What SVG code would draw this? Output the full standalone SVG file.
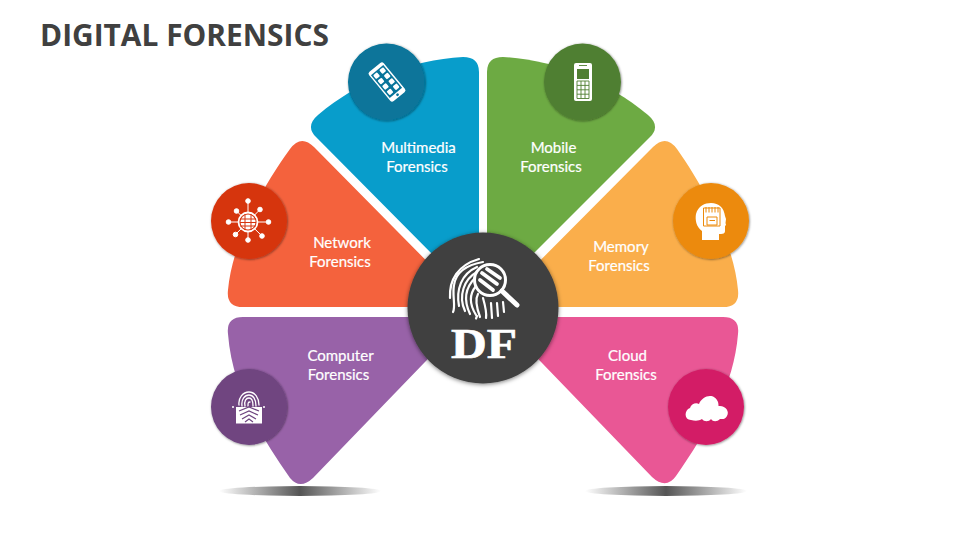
<svg xmlns="http://www.w3.org/2000/svg" width="960" height="540" viewBox="0 0 960 540">
<style>
.lbl{font-family:"Lato","Open Sans",sans-serif;font-size:15px;fill:#fff;stroke:#fff;stroke-width:.2px;text-anchor:middle}
.title{font-family:"Open Sans","Liberation Sans",sans-serif;font-size:31px;font-weight:700;fill:#404040}
.df{font-family:"Liberation Serif",serif;font-size:43px;font-weight:700;fill:#fff;stroke:#fff;stroke-width:.7px;text-anchor:middle}
.ic{filter:url(#sh)}
.w{fill:#fff}
.fp{fill:none;stroke:#fff;stroke-linecap:round}
</style>
<defs>
<filter id="sh" x="-20%" y="-20%" width="140%" height="140%"><feDropShadow dx=".6" dy=".6" stdDeviation="1.300" flood-color="#000" flood-opacity=".5"/></filter>
<filter id="sh2" x="-20%" y="-20%" width="140%" height="140%"><feDropShadow dx="0" dy="1" stdDeviation="2" flood-color="#000" flood-opacity=".5"/></filter>
<linearGradient id="gs"><stop offset="0" stop-color="#fff"/><stop offset=".5" stop-color="#555"/><stop offset="1" stop-color="#fff"/></linearGradient>
</defs>
<rect width="960" height="540" fill="#fff"/>
<text class="title" x="40" y="46" textLength="289" lengthAdjust="spacingAndGlyphs">DIGITAL FORENSICS</text>
<ellipse cx="300" cy="491" rx="81" ry="5" fill="url(#gs)"/>
<ellipse cx="666" cy="491" rx="81" ry="5" fill="url(#gs)"/>

<g id="multimedia">
<path d="M479 300V72Q479 57 463 57C410 60 360 80 318 115Q305 126 316 137L440 262Z" fill="#089DCB"/>
<circle class="ic" cx="386.5" cy="82" r="38.5" fill="#07749A"/>
<g transform="translate(387 82) rotate(-39.6)">
<rect x="-9.500" y="-19" width="19" height="38" rx="2.500" fill="#fff"/>
<rect x="-8" y="-15.500" width="16" height="29.500" fill="#07749A"/>
<g class="w"><rect x="-6.500" y="-14" width="5" height="5" rx="1"/><rect x="1.500" y="-14" width="5" height="5" rx="1"/><rect x="-6.500" y="-7" width="5" height="5" rx="1"/><rect x="1.500" y="-7" width="5" height="5" rx="1"/><rect x="-6.500" y="0" width="5" height="5" rx="1"/><rect x="1.500" y="0" width="5" height="5" rx="1"/><rect x="-6.500" y="7" width="5" height="5" rx="1"/><rect x="1.500" y="7" width="5" height="5" rx="1"/></g>
<circle cy="16.500" r="1.400" fill="#07749A"/>
</g>
<text class="lbl" x="418.500" y="153">Multimedia</text><text class="lbl" x="417" y="172">Forensics</text>
</g>

<g id="mobile">
<path d="M487 300V72Q487 57 503 57C555 60 605 80 648 115Q661 126 650 137L525 262Z" fill="#6DAA43"/>
<circle class="ic" cx="582.5" cy="82" r="38.5" fill="#507F32"/>
<rect x="574" y="63" width="18" height="38" rx="2" fill="#fff"/>
<rect x="577" y="69" width="12" height="10" fill="#507F32"/>
<path d="M579 65.500H587M577 81H589V98.500H577ZM577 85.400H589M577 89.800H589M577 94.200H589M581 81V98.500M585 81V98.500" fill="none" stroke="#507F32" stroke-width=".9"/>
<text class="lbl" x="553.500" y="153">Mobile</text><text class="lbl" x="551" y="172">Forensics</text>
</g>

<g id="network">
<path d="M480 307H243Q226 307 228 290C232 245 260 190 290 149Q301 134 314 147L480 315Z" fill="#F4623D"/>
<circle class="ic" cx="249" cy="221" r="38" fill="#D6350F"/>
<g stroke="#fff" stroke-width="1" fill="#fff">
<path d="M248 201V240M228.500 222H268.500M236.500 211L262 236M260 209.500L235.500 234.500" fill="none"/>
<circle cx="248" cy="201" r="2.300"/><circle cx="260" cy="209.500" r="2.300"/><circle cx="268.500" cy="222" r="2.300"/><circle cx="262" cy="236" r="2.300"/><circle cx="248" cy="240" r="2.300"/><circle cx="235.500" cy="234.500" r="2.300"/><circle cx="228.500" cy="222" r="2.300"/><circle cx="236.500" cy="211" r="2.300"/>
</g>
<circle cx="248" cy="222" r="9.500" fill="#D6350F" stroke="#fff" stroke-width="1.800"/>
<circle cx="248" cy="222" r="7.500" fill="#fff"/>
<path d="M240 219H256M240 222.500H256M240 226H256M245 214V230M251 214V230" stroke="#D6350F" stroke-width="1"/>
<text class="lbl" x="342" y="248">Network</text><text class="lbl" x="340" y="267">Forensics</text>
</g>

<g id="memory">
<path d="M486 307H723Q740 307 738 290C734 245 706 190 677 149Q666 134 653 147L486 315Z" fill="#FAAE4B"/>
<circle class="ic" cx="711" cy="221" r="38" fill="#EC8A0B"/>
<path d="M702 240V231C696 227 695 219 696 214C698 206 705 203 711 203C719 203 724 208 725 216L726 219L725.500 223L726 225L725 226L725 231C725 234 722 234 719 234V240Z" fill="#fff"/>
<path d="M703.500 208H720V226H703.500Z" fill="#fff" stroke="#EC8A0B" stroke-width="1"/>
<path d="M706 207V212.500M709 207V212.500M712 207V212.500M715 207V212.500M718 207V212.500M707 217H717V225H707ZM709.500 220.500H715" fill="none" stroke="#EC8A0B" stroke-width="1"/>
<text class="lbl" x="621" y="252">Memory</text><text class="lbl" x="619" y="271">Forensics</text>
</g>

<g id="computer">
<path d="M480 317H243Q226 317 228 334C232 385 256 430 290 478Q300 490 313 478L480 305Z" fill="#9862A8"/>
<circle class="ic" cx="249" cy="407" r="38" fill="#6F4580"/>
<rect x="236" y="407" width="26" height="16.500" fill="#fff"/>
<circle cx="233" cy="407" r="1" fill="#fff"/><circle cx="264" cy="407" r="1" fill="#fff"/>
<g class="fp" stroke-width="1.300"><path d="M239 405C238 398 243 392 249 392C255 392 259 398 259 405"/><path d="M242 406C241 399 245 395 249 395C253 395 256 399 256 406"/><path d="M245 406C244 401 246 398 249 398C252 398 253 402 253 406"/><path d="M248 406C248 403 248 402 250 402"/></g>
<path d="M239 411L249 407L259 411M240 415L249 411L258 415M242 419L249 415L256 419M245 422L249 419L253 422" fill="none" stroke="#6F4580" stroke-width="1.200"/>
<text class="lbl" x="340.500" y="361">Computer</text><text class="lbl" x="338.500" y="380">Forensics</text>
</g>

<g id="cloud">
<path d="M486 317H723Q740 317 738 334C734 385 708 430 676 476Q666 490 652 477L486 305Z" fill="#E95795"/>
<circle class="ic" cx="706" cy="407" r="38" fill="#D31F66"/>
<path d="M691 420C684 420 684 410 690 408C691 404 696 402 699 404C702 396 714 392 718 402C718.500 404 718.500 405 718.500 406C725 405 730 411 727 416C725 420 722 419 720 419C717 422 713 422 711 419C709 422 704 422 702 419C699 421 695 421 691 420Z" fill="#fff"/>
<text class="lbl" x="627.500" y="361">Cloud</text><text class="lbl" x="626" y="380">Forensics</text>
</g>

<g id="center">
<circle cx="483" cy="308" r="75.500" fill="#404040" filter="url(#sh2)"/>
<g class="fp" stroke-width="2.200">
<path d="M450 298C449 280 458 265 479 259"/>
<path d="M453 312C456 306 452 296 454 285C456 272 466 265 483 262"/>
<path d="M459 306C456 290 461 274 477 267"/>
<path d="M465 311C458 296 464 279 477 272"/>
<path d="M470 314C462 297 468 285 475 278"/>
<path d="M476 315C468 302 471 292 476 286"/>
<path d="M480 317C476 306 475 299 478 294"/>
<path d="M486 318C487 312 485 305 483 298"/>
<path d="M492 318L491 303"/>
<path d="M498 316L497 303"/>
<path d="M504 312L503 302"/>
<path d="M476 318.500L477 316"/>
</g>
<circle cx="490" cy="280" r="15.500" fill="#404040" stroke="#fff" stroke-width="3"/>
<path d="M482 273L497 284M480 280L493 290M487 269L500 278" stroke="#fff" stroke-width="3.800" stroke-linecap="round" fill="none"/>
<path d="M502 291L517 305" stroke="#fff" stroke-width="5" stroke-linecap="round"/>
<text class="df" x="484" y="358" textLength="66" lengthAdjust="spacingAndGlyphs">DF</text>
</g>
</svg>
